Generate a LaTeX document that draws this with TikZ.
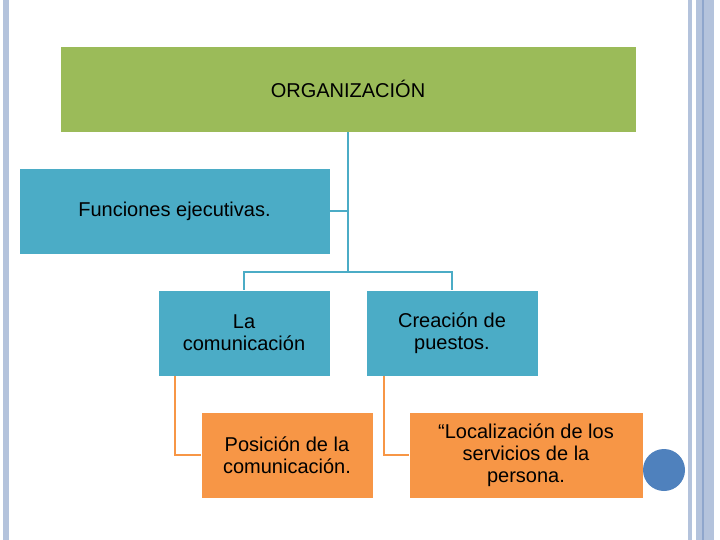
\documentclass[tikz,border=0pt]{standalone}
\usepackage{fontspec}
\setmainfont{Liberation Sans}
\definecolor{gr}{HTML}{9BBB59}
\definecolor{bl}{HTML}{4BACC6}
\definecolor{og}{HTML}{F79646}
\definecolor{cb}{HTML}{4F81BD}
\definecolor{bar}{HTML}{B4C3DC}
\definecolor{bard}{HTML}{8FA6CC}
\begin{document}
\begin{tikzpicture}[x=1pt,y=-1pt,
  box/.style={draw=white,line width=0.6pt,minimum height=86pt,align=center,inner sep=2pt,font=\fontsize{20}{22}\selectfont},
  tl/.style={draw=bl,line width=2.5pt},
  ol/.style={draw=og,line width=2.5pt}]
\useasboundingbox (0,0) rectangle (720,540);
\fill[white] (0,0) rectangle (720,540);
\fill[bar] (3,0) rectangle (9,540);
\fill[bar] (688,0) rectangle (692,540);
\fill[bar] (696,0) rectangle (714,540);
\fill[bard] (702,0) rectangle (704,540);
\node[box,fill=gr,minimum width=576pt] (org) at (348,89) {ORGANIZACIÓN};
\node[box,fill=bl,minimum width=311pt] (fun) at (174.5,211) {Funciones ejecutivas.};
\node[box,fill=bl,minimum width=172pt] (com) at (244,333) {La\\comunicación};
\node[box,fill=bl,minimum width=172pt] (cre) at (452,333) {Creación de\\puestos.};
\node[box,fill=og,minimum width=172pt] (pos) at (287,455) {Posición de la\\comunicación.};
\node[box,fill=og,minimum width=234pt] (loc) at (526,455) {“Localización de los\\servicios de la\\persona.};
\fill[cb] (664,470) circle (21) coordinate (dot);
\coordinate (j) at (348,272);
\draw[tl] (org.south) -- (j);
\draw[tl] (fun.east) -- (fun.east -| org.south);
\draw[tl] (com.north) |- (j) -| (cre.north);
\draw[ol] ([xshift=-69pt]com.south) |- (pos.west);
\draw[ol] ([xshift=-68pt]cre.south) |- (loc.west);
\end{tikzpicture}
\end{document}
